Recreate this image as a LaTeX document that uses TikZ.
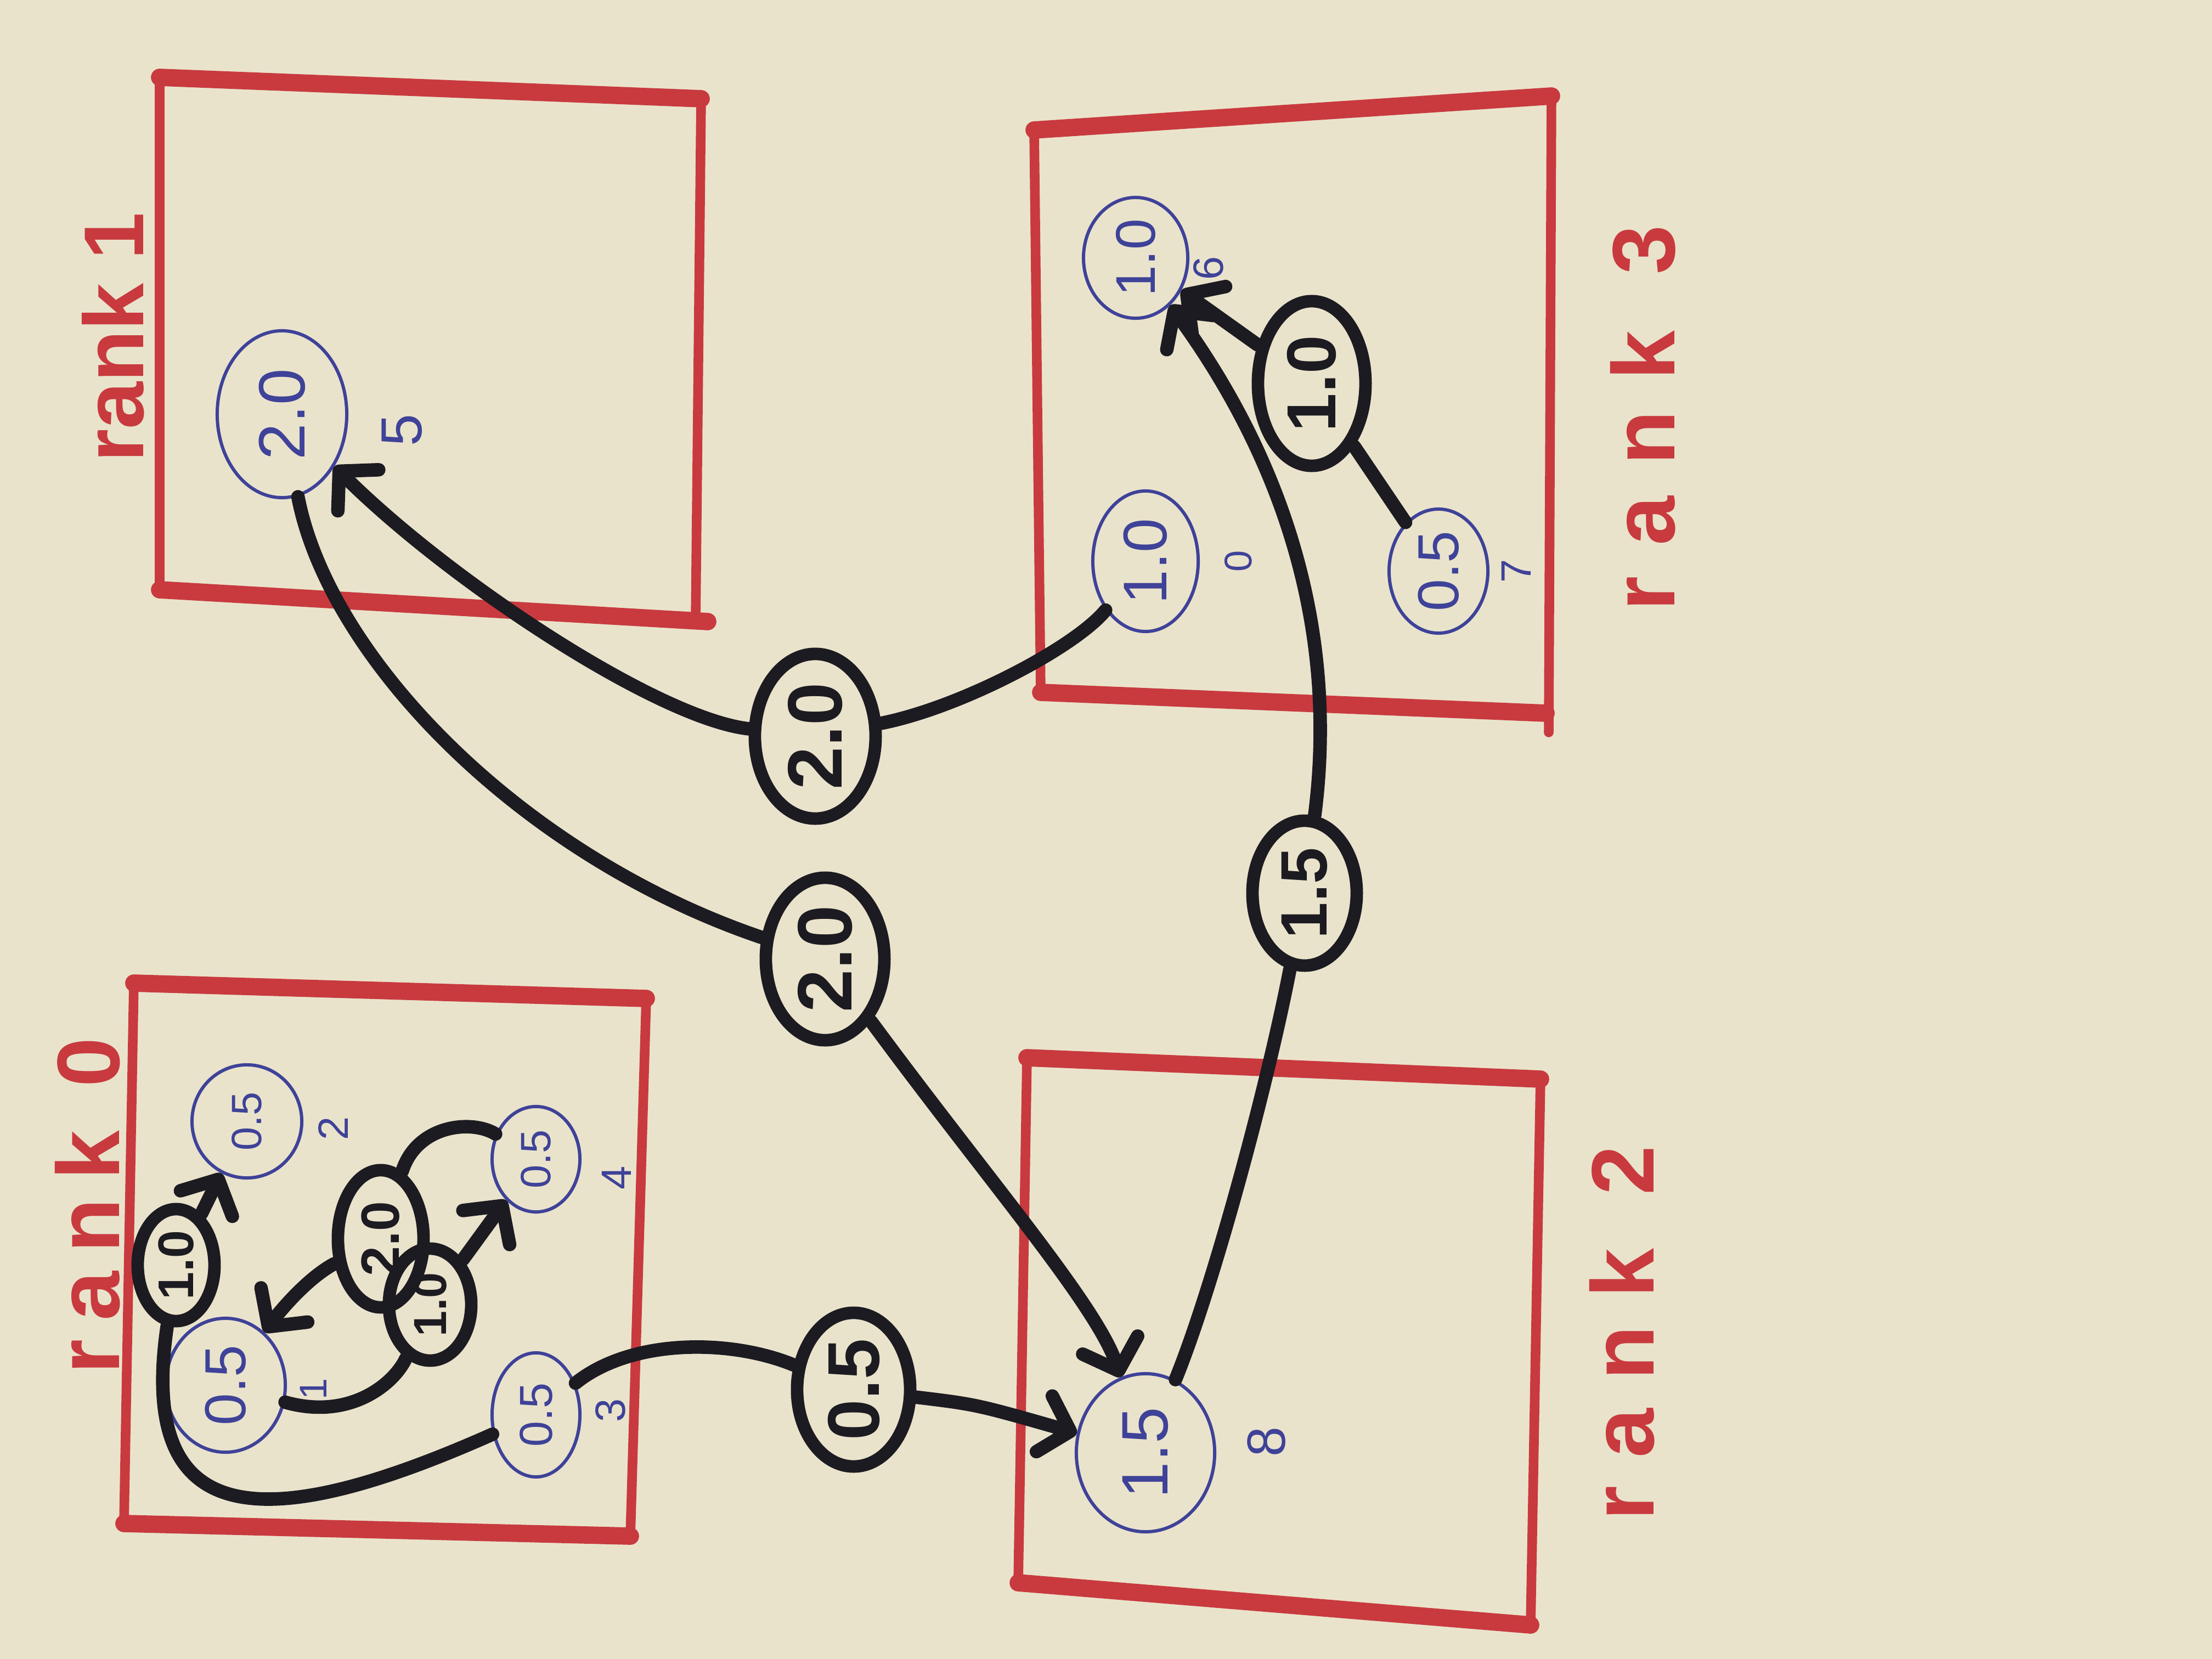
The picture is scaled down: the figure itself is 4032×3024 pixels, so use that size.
\documentclass[tikz,border=0pt]{standalone}
\usepackage{fontspec}
\setmainfont{Liberation Sans}
\usetikzlibrary{shapes.geometric,arrows.meta}
\definecolor{paper}{RGB}{234,227,204}
\definecolor{marker}{RGB}{200,58,62}
\definecolor{penblue}{RGB}{62,66,152}
\definecolor{ink}{RGB}{28,27,33}
\newcommand{\myfs}[1]{\fontsize{#1}{#1}\selectfont}
\begin{document}
\begin{tikzpicture}[x=0.01cm,y=-0.01cm,
  vtx/.style={ellipse, draw=penblue, line width=1.7pt, inner sep=0pt, rotate=90, text=penblue, font={\myfs{#1}}},
  wlab/.style={ellipse, draw=ink, line width=6.5pt, inner sep=0pt, rotate=90, text=ink, font={\bfseries\myfs{#1}}},
  idx/.style={text=penblue, rotate=90, inner sep=0pt, font={\myfs{#1}}},
  ranklab/.style={text=marker, rotate=90, inner sep=0pt, font={\bfseries\myfs{#1}}},
  side/.style={draw=marker, line width=5pt, line cap=round},
  topbot/.style={draw=marker, line width=9pt, line cap=round},
  wire/.style={draw=ink, line width=7pt, line cap=round},
  arr/.style={-{Straight Barb[length=14pt,width=30pt,round]}},
]
\useasboundingbox (0,0) rectangle (4032,3024);
\fill[paper] (0,0) rectangle (4032,3024);

% ---------- rank boxes ----------
% rank 1
\coordinate (a1) at (291,141);  \coordinate (a2) at (1278,180);
\coordinate (a3) at (1268,1131); \coordinate (a4) at (291,1075);
\coordinate (a5) at (1290,1133);
\draw[topbot] (a1) -- (a2);
\draw[side] (a2) -- (a3);
\draw[topbot] (a4) -- (a5);
\draw[side] (a1) -- (a4);
% rank 3
\coordinate (b1) at (1885,237);  \coordinate (b2) at (2828,175);
\coordinate (b3) at (2823,1335); \coordinate (b4) at (1897,1262);
\coordinate (b5) at (2818,1300);
\draw[topbot] (b1) -- (b2);
\draw[side] (b2) -- (b3);
\draw[topbot] (b4) -- (b5);
\draw[side] (b1) -- (b4);
% rank 0
\coordinate (c1) at (244,1792);  \coordinate (c2) at (1178,1820);
\coordinate (c3) at (1149,2800); \coordinate (c4) at (226,2777);
\draw[topbot] (c1) -- (c2);
\draw[side] (c2) -- (c3);
\draw[topbot] (c4) -- (c3);
\draw[side] (c1) -- (c4);
% rank 2
\coordinate (d1) at (1872,1928);  \coordinate (d2) at (2808,1967);
\coordinate (d3) at (2790,2962); \coordinate (d4) at (1856,2885);
\draw[topbot] (d1) -- (d2);
\draw[side] (d2) -- (d3);
\draw[topbot] (d4) -- (d3);
\draw[side] (d1) -- (d4);

% ---------- rank labels ----------
\node[ranklab=44] (rk1) at (206,615) {rank 1};
\node[ranklab=46] (rk0) at (160,2198) {\addfontfeature{LetterSpace=21}rank 0};
\node[ranklab=46] (rk3) at (2995,762) {\addfontfeature{LetterSpace=35}rank 3};
\node[ranklab=46] (rk2) at (2957,2430) {\addfontfeature{LetterSpace=32}rank 2};

% ---------- vertices ----------
\node[vtx=34, minimum width=3.04cm, minimum height=2.36cm] (n5) at (514,755) {2.0};
\node[vtx=29, minimum width=2.2cm, minimum height=1.9cm] (n6) at (2070,470) {1.0};
\node[vtx=32, minimum width=2.56cm, minimum height=1.92cm] (n0) at (2088,1023) {1.0};
\node[vtx=30, minimum width=2.26cm, minimum height=1.8cm] (n7) at (2622,1041) {0.5};
\node[vtx=34, minimum width=2.88cm, minimum height=2.52cm] (n8) at (2088,2648) {1.5};
\node[vtx=22, minimum width=2.06cm, minimum height=2.0cm] (n2) at (450,2044) {0.5};
\node[vtx=22, minimum width=1.92cm, minimum height=1.6cm] (n4) at (977,2113) {0.5};
\node[vtx=30, minimum width=2.44cm, minimum height=2.18cm] (n1) at (411,2525) {0.5};
\node[vtx=24, minimum width=2.26cm, minimum height=1.6cm] (n3) at (977,2579) {0.5};

% ---------- vertex indices ----------
\node[idx=30] (i5) at (733,784) {5};
\node[idx=22] (i6) at (2203,489) {6};
\node[idx=20] (i0) at (2257,1023) {0};
\node[idx=22] (i7) at (2764,1041) {7};
\node[idx=28] (i8) at (2309,2628) {8};
\node[idx=22] (i2) at (607,2057) {2};
\node[idx=22] (i4) at (1124,2147) {4};
\node[idx=20] (i1) at (571,2532) {1};
\node[idx=22] (i3) at (1113,2571) {3};

% ---------- edge weights ----------
\node[wlab=40, minimum width=3.0cm, minimum height=2.2cm] (L02) at (1486,1342) {2.0};
\node[wlab=40, minimum width=2.96cm, minimum height=2.16cm] (L58) at (1504,1748) {2.0};
\node[wlab=34, minimum width=2.64cm, minimum height=1.9cm] (L86) at (2378,1628) {1.5};
\node[wlab=36, minimum width=3.0cm, minimum height=1.96cm] (L76) at (2391,699) {1.0};
\node[wlab=38, minimum width=2.8cm, minimum height=2.06cm] (L38) at (1556,2533) {0.5};
\node[wlab=26, minimum width=2.04cm, minimum height=1.4cm] (L32) at (321,2306) {1.0};
\node[wlab=28, minimum width=2.5cm, minimum height=1.56cm] (L41) at (694,2258) {2.0};
\node[wlab=24, minimum width=2.04cm, minimum height=1.5cm] (L14) at (784,2378) {1.0};

% ---------- edges ----------
% 0 -> 5
\draw[wire] (n0) .. controls (1960,1180) and (1750,1290) .. (L02);
\draw[wire,arr] (L02) .. controls (1200,1310) and (820,1060) .. (n5);
% 5 -> 8
\draw[wire] (n5) .. controls (600,1200) and (950,1560) .. (L58);
\draw[wire,arr] (L58) .. controls (1800,2150) and (2000,2380) .. (n8);
% 8 -> 6
\draw[wire] (n8) .. controls (2210,2350) and (2310,1980) .. (L86);
\draw[wire,arr] (L86) .. controls (2440,1150) and (2340,840) .. (n6);
% 7 -> 6
\draw[wire] (n7) -- (L76);
\draw[wire,arr] (L76) -- (n6);
% 3 -> 8
\draw[wire] (n3) .. controls (1150,2440) and (1330,2440) .. (L38);
\draw[wire,arr] (L38) .. controls (1780,2560) .. (n8);
% 3 -> 2
\draw[wire] (n3) .. controls (480,2800) and (250,2790) .. (L32);
\draw[wire,arr] (L32) -- (n2);
% 4 -> 1
\draw[wire] (n4) .. controls (860,2040) and (760,2050) .. (L41);
\draw[wire,arr] (L41) .. controls (560,2330) and (510,2390) .. (n1);
% 1 -> 4
\draw[wire] (n1) .. controls (640,2590) and (720,2520) .. (L14);
\draw[wire,arr] (L14) -- (n4);
\end{tikzpicture}
\end{document}
